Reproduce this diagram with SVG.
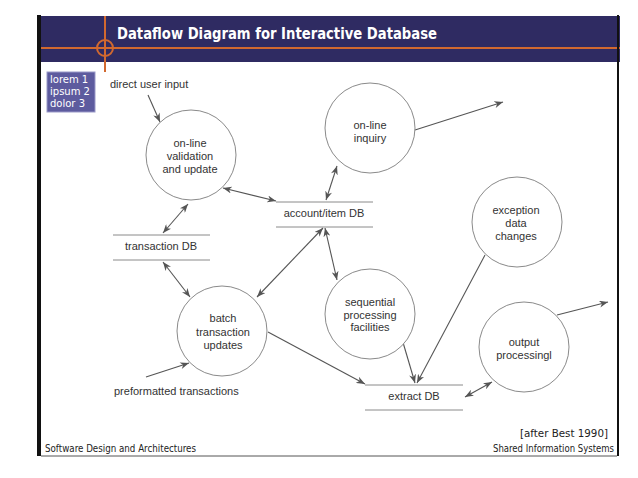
<svg xmlns="http://www.w3.org/2000/svg" width="638" height="478" viewBox="0 0 638 478">
<style>
  .proc circle { fill: #fff; stroke: #8a8a8a; stroke-width: 1; }
  .lbl { font-family: "Liberation Sans", Arial, sans-serif; font-size: 11px; fill: #333; text-anchor: middle; }
  .ext { font-family: "Liberation Sans", Arial, sans-serif; font-size: 11px; fill: #333; }
  .store line { stroke: #8a8a8a; stroke-width: 1; }
  #connectors line { stroke: #555; stroke-width: 1.1; fill: none; }
  .one { marker-end: url(#ah); }
  .two { marker-end: url(#ah); marker-start: url(#ah); }
  .foot { font-family: "DejaVu Sans", "Liberation Sans", sans-serif; font-size: 10px; fill: #222; }
</style>
<defs>
  <marker id="ah" viewBox="0 0 10 8" refX="10" refY="4" markerWidth="9" markerHeight="7" markerUnits="userSpaceOnUse" orient="auto-start-reverse">
    <path d="M0,0 L10,4 L0,8 L3,4 z" fill="#555"/>
  </marker>
</defs>
<rect width="638" height="478" fill="#fff"/>
<!-- header -->
<g id="header">
  <rect x="40" y="16" width="580" height="46" fill="#2f2b62"/>
  <line x1="40" y1="48" x2="620" y2="48" stroke="#d2692f" stroke-width="2"/>
  <line x1="105" y1="16" x2="105" y2="72" stroke="#d2692f" stroke-width="2"/>
  <circle cx="105" cy="48" r="8" fill="none" stroke="#d2692f" stroke-width="2"/>
  <text x="117" y="39" font-family="'DejaVu Sans', 'Liberation Sans', sans-serif" font-weight="bold" font-size="15.5" fill="#fff" textLength="320" lengthAdjust="spacingAndGlyphs">Dataflow Diagram for Interactive Database</text>
</g>
<!-- frame -->
<rect x="37" y="15" width="4" height="441" fill="#111"/>
<rect x="617" y="15" width="2" height="441" fill="#111"/>
<line x1="41" y1="456" x2="617" y2="456" stroke="#555" stroke-width="1"/>
<!-- legend -->
<g id="legend">
  <rect x="47" y="72" width="48" height="40" fill="#5d5b9e" stroke="#9a99c8" stroke-width="1"/>
  <text font-family="'DejaVu Sans', 'Liberation Sans', sans-serif" font-size="10" fill="#fff">
    <tspan x="50" y="83">lorem 1</tspan>
    <tspan x="50" y="95">ipsum 2</tspan>
    <tspan x="50" y="107">dolor 3</tspan>
  </text>
</g>
<!-- connectors -->
<g id="connectors">
  <line class="one" x1="148" y1="95" x2="160" y2="122"/>
  <line class="two" x1="223" y1="188" x2="276" y2="201"/>
  <line class="two" x1="188" y1="204" x2="163" y2="233"/>
  <line class="two" x1="337" y1="166" x2="326" y2="200"/>
  <line class="one" x1="415" y1="130" x2="503" y2="102"/>
  <line class="two" x1="163" y1="262" x2="190" y2="297"/>
  <line class="two" x1="323" y1="228" x2="257" y2="297"/>
  <line class="two" x1="325" y1="228" x2="337" y2="280"/>
  <line class="one" x1="146" y1="377" x2="189" y2="363"/>
  <line class="one" x1="268" y1="332" x2="365" y2="384"/>
  <line class="one" x1="402" y1="339" x2="415" y2="383"/>
  <line class="one" x1="485" y1="255" x2="417" y2="383"/>
  <line class="two" x1="465" y1="397" x2="492" y2="382"/>
  <line class="one" x1="557" y1="315" x2="608" y2="302"/>
</g>
<!-- processes -->
<g id="validation" class="proc">
  <circle cx="191" cy="155" r="45"/>
  <text class="lbl"><tspan x="190" y="147">on-line</tspan><tspan x="190" y="160">validation</tspan><tspan x="190" y="173">and update</tspan></text>
</g>
<g id="inquiry" class="proc">
  <circle cx="370" cy="128" r="45"/>
  <text class="lbl"><tspan x="370" y="129">on-line</tspan><tspan x="370" y="142">inquiry</tspan></text>
</g>
<g id="exception" class="proc">
  <circle cx="517" cy="222" r="45"/>
  <text class="lbl"><tspan x="516" y="214">exception</tspan><tspan x="516" y="227">data</tspan><tspan x="516" y="240">changes</tspan></text>
</g>
<g id="sequential" class="proc">
  <circle cx="370" cy="314" r="45"/>
  <text class="lbl"><tspan x="370" y="306">sequential</tspan><tspan x="370" y="319">processing</tspan><tspan x="370" y="331">facilities</tspan></text>
</g>
<g id="output" class="proc">
  <circle cx="524" cy="347" r="45"/>
  <text class="lbl"><tspan x="524" y="346">output</tspan><tspan x="524" y="359">processingl</tspan></text>
</g>
<g id="batch" class="proc">
  <circle cx="222" cy="331" r="45"/>
  <text class="lbl"><tspan x="223" y="322">batch</tspan><tspan x="223" y="336">transaction</tspan><tspan x="223" y="349">updates</tspan></text>
</g>
<!-- stores -->
<g id="transactionDB" class="store">
  <line x1="113" y1="235" x2="210" y2="235"/>
  <line x1="113" y1="260" x2="210" y2="260"/>
  <text class="lbl" x="161" y="250">transaction DB</text>
</g>
<g id="accountDB" class="store">
  <line x1="276" y1="202" x2="373" y2="202"/>
  <line x1="276" y1="227" x2="373" y2="227"/>
  <text class="lbl" x="324" y="217">account/item DB</text>
</g>
<g id="extractDB" class="store">
  <line x1="365" y1="385" x2="463" y2="385"/>
  <line x1="365" y1="410" x2="463" y2="410"/>
  <text class="lbl" x="414" y="400">extract DB</text>
</g>
<!-- externals -->
<g id="directInput"><text class="ext" x="110" y="88">direct user input</text></g>
<g id="preformatted"><text class="ext" x="114" y="395">preformatted transactions</text></g>
<!-- footer -->
<text class="foot" x="520" y="437" font-size="12" textLength="88" lengthAdjust="spacingAndGlyphs">[after Best 1990]</text>
<text class="foot" x="45" y="452" textLength="151" lengthAdjust="spacingAndGlyphs">Software Design and Architectures</text>
<text class="foot" x="493" y="452" textLength="121" lengthAdjust="spacingAndGlyphs">Shared Information Systems</text>
</svg>
